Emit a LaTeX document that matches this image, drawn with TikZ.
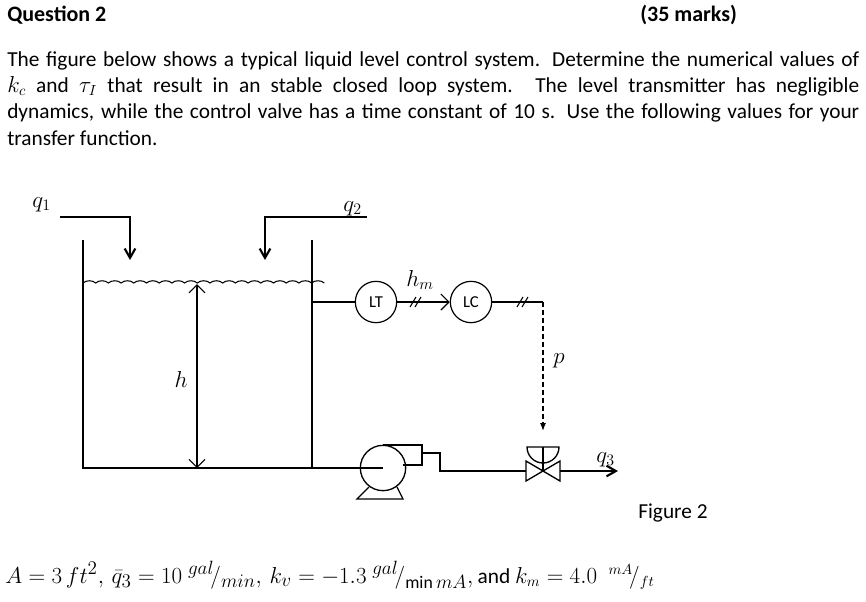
\documentclass[tikz,border=0pt]{standalone}
\usepackage{fontspec}
\setmainfont{Carlito}
\usetikzlibrary{arrows.meta}
\begin{document}
\begin{tikzpicture}[x=0.75pt,y=-0.75pt,
  txt/.style={anchor=base west,inner sep=0pt,font=\fontsize{16}{19}\selectfont},
  pipe/.style={line width=1.6pt},
  thin/.style={line width=0.8pt},
  inst/.style={circle,draw,line width=0.9pt,minimum size=31pt,inner sep=0pt,font=\fontsize{12.5}{14}\selectfont},
  sig/.style={line width=0.9pt},
  dsig/.style={line width=0.9pt,dash pattern=on 4pt off 2pt},
  lab/.style={anchor=base west,inner sep=0pt,font=\fontsize{17}{19}\selectfont},
  flow/.style={pipe,-{Straight Barb[length=7pt,width=8pt]}}]
\useasboundingbox (0,0) rectangle (866,601);
% text
\node[txt,font=\bfseries\fontsize{16.5}{19}\selectfont] (t1) at (7,21) {Question 2};
\node[txt,font=\bfseries\fontsize{16.5}{19}\selectfont] (t2) at (640,21) {(35 marks)};
\node[txt] (p1) at (7,66) {\hbox to 639pt{The figure below shows a typical liquid level control system. Determine the numerical values of}};
\node[txt] (p2) at (7,92) {\hbox to 639pt{$k_c$ and $\tau_I$ that result in an stable closed loop system. The level transmitter has negligible}};
\node[txt] (p3) at (7,118) {\hbox to 639pt{dynamics, while the control valve has a time constant of 10 s. Use the following values for your}};
\node[txt] (p4) at (7,145) {transfer function.};
% inflows
\coordinate (q1s) at (60,217); \coordinate (q1c) at (130,217); \coordinate (q1e) at (130,260);
\draw[flow] (q1s) -- (q1c) -- (q1e);
\coordinate (q2s) at (367,217); \coordinate (q2c) at (265,217); \coordinate (q2e) at (265,260);
\draw[flow] (q2s) -- (q2c) -- (q2e);
\node[lab] (lq1) at (32,207) {$q_1$};
\node[lab] (lq2) at (343,211) {$q_2$};
% tank
\coordinate (tl) at (83,240); \coordinate (bl) at (83,468); \coordinate (br) at (312,468); \coordinate (tr) at (312,240);
\draw[pipe] (tl) -- (bl) -- (br) -- (tr);
\draw[thin] (83,283) \foreach \i in {0,...,18} {.. controls ++(3,-3) and ++(-3,-3) .. ++(12.7,0)};
\coordinate (hb) at (197,468); \coordinate (ht) at (197,284);
\draw[thin,{Straight Barb[length=6pt]}-{Straight Barb[length=6pt]}] (ht) -- (hb);
\node[inner sep=0pt,font=\fontsize{16}{18}\selectfont] (lh) at (181,379) {$h$};
% instruments
\node[inst] (LT) at (376,302) {LT};
\node[inst] (LC) at (471,302) {LC};
\coordinate (lttap) at (312,302);
\draw[pipe] (lttap) -- (LT);
\draw[sig,-{Straight Barb[length=6pt]}] (LT) -- (LC);
\draw[thin] (410,307) -- (416,297) (415,307) -- (421,297);
\node[anchor=base,inner sep=0pt,font=\fontsize{17}{19}\selectfont] (lhm) at (420,286) {$h_m$};
\coordinate (cr) at (543,302);
\draw[sig] (LC) -- (cr);
\draw[thin] (517,307) -- (523,297) (522,307) -- (528,297);
% pump
\node[circle,draw,line width=1pt,minimum size=34pt,inner sep=0pt] (pump) at (383,468) {};
\coordinate (pin) at (383,468);
\draw[pipe] (br) -- (pin);
\draw[line width=1pt] (383,445) -- (422,445) -- (422,465) -- (403,465);
\draw[line width=1pt] (369,487) -- (357,499) -- (403,499) -- (397,487);
\coordinate (po) at (422,453); \coordinate (pk1) at (440,453); \coordinate (pk2) at (440,471);
% valve
\coordinate (vc) at (543,471);
\draw[pipe] (po) -- (pk1) -- (pk2) -- (526,471);
\draw[line width=1pt] (526,461) -- (526,481) -- (560,461) -- (560,481) -- cycle;
\draw[line width=1pt] (543,447) -- (vc);
\draw[line width=1pt] (527,447) arc (180:0:16) -- cycle;
\draw[dsig,-{Latex[length=6pt]}] (cr) -- (543,431);
\node[lab] (lp) at (553,363) {$p$};
\coordinate (q3e) at (618,471);
\draw[pipe,-{Straight Barb[length=7pt,width=8pt]}] (560,471) -- (q3e);
\node[lab] (lq3) at (596,462) {$q_3$};
\node[txt] (fig) at (638,518) {Figure 2};
% formula
\node[anchor=base west,inner sep=0pt,font=\fontsize{19}{22}\selectfont] (form) at (5,583)
 {$A=3\,ft^2,\,\bar q_3 = 10\ {}^{gal}\!/_{min},\,k_v=-1.3\ {}^{gal}\!/_{\mathrm{min}\,mA},$\,\fontsize{16}{18}\selectfont and $\fontsize{19}{22}\selectfont k_m=4.0\ \ {}^{mA}\!/_{ft}$};
\end{tikzpicture}
\end{document}
